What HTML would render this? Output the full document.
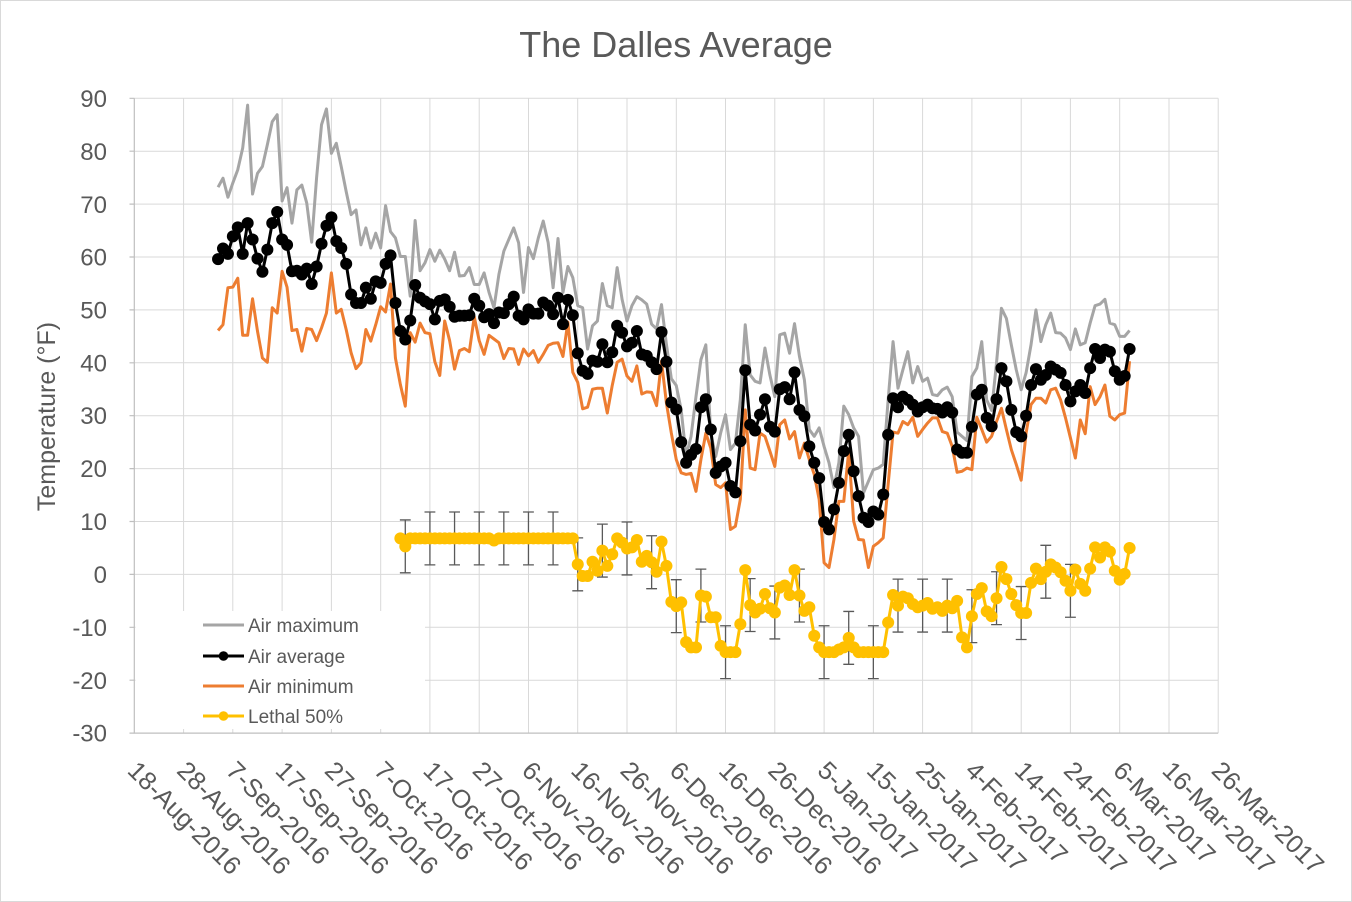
<!DOCTYPE html>
<html><head><meta charset="utf-8"><style>
html,body{margin:0;padding:0;background:#fff;}
svg{display:block;font-family:"Liberation Sans",Arial,sans-serif;}
</style></head><body>
<svg width="1352" height="902" viewBox="0 0 1352 902" xmlns="http://www.w3.org/2000/svg">
<rect x="0" y="0" width="1352" height="902" fill="#fff"/>
<rect x="0.5" y="0.5" width="1351" height="901" fill="none" stroke="#D9D9D9" stroke-width="1"/>
<text x="676" y="57" text-anchor="middle" font-size="36" fill="#595959">The Dalles Average</text>
<g stroke="#D9D9D9" stroke-width="1" fill="none">
<path d="M134.3,98.3H1218.2M134.3,151.2H1218.2M134.3,204.1H1218.2M134.3,257H1218.2M134.3,309.9H1218.2M134.3,362.8H1218.2M134.3,415.7H1218.2M134.3,468.6H1218.2M134.3,521.5H1218.2M134.3,574.4H1218.2M134.3,627.3H1218.2M134.3,680.2H1218.2"/>
<path d="M183.6,98.3V733M232.8,98.3V733M282.1,98.3V733M331.4,98.3V733M380.7,98.3V733M429.9,98.3V733M479.2,98.3V733M528.5,98.3V733M577.7,98.3V733M627,98.3V733M676.3,98.3V733M725.5,98.3V733M774.8,98.3V733M824.1,98.3V733M873.4,98.3V733M922.6,98.3V733M971.9,98.3V733M1021.2,98.3V733M1070.4,98.3V733M1119.7,98.3V733M1169,98.3V733M1218.2,98.3V733"/>
</g>
<g stroke="#BFBFBF" stroke-width="1.2" fill="none">
<path d="M134.3,98.3V733.1H1218.2"/>
<path d="M129.5,98.3H134.3M129.5,151.2H134.3M129.5,204.1H134.3M129.5,257H134.3M129.5,309.9H134.3M129.5,362.8H134.3M129.5,415.7H134.3M129.5,468.6H134.3M129.5,521.5H134.3M129.5,574.4H134.3M129.5,627.3H134.3M129.5,680.2H134.3M129.5,733.1H134.3"/>
</g>
<g font-size="24" fill="#595959" text-anchor="end">
<text x="107" y="107">90</text>
<text x="107" y="160">80</text>
<text x="107" y="213">70</text>
<text x="107" y="265.5">60</text>
<text x="107" y="318.5">50</text>
<text x="107" y="371.5">40</text>
<text x="107" y="424">30</text>
<text x="107" y="477">20</text>
<text x="107" y="530">10</text>
<text x="107" y="583">0</text>
<text x="107" y="636">-10</text>
<text x="107" y="689">-20</text>
<text x="107" y="741.5">-30</text>
</g>
<text transform="translate(55,416.5) rotate(-90)" text-anchor="middle" font-size="25" fill="#595959">Temperature (°F)</text>
<g font-size="25.5" fill="#595959">
<text transform="translate(126.3,772) rotate(45)">18-Aug-2016</text>
<text transform="translate(175.6,772) rotate(45)">28-Aug-2016</text>
<text transform="translate(224.8,772) rotate(45)">7-Sep-2016</text>
<text transform="translate(274.1,772) rotate(45)">17-Sep-2016</text>
<text transform="translate(323.4,772) rotate(45)">27-Sep-2016</text>
<text transform="translate(372.7,772) rotate(45)">7-Oct-2016</text>
<text transform="translate(421.9,772) rotate(45)">17-Oct-2016</text>
<text transform="translate(471.2,772) rotate(45)">27-Oct-2016</text>
<text transform="translate(520.5,772) rotate(45)">6-Nov-2016</text>
<text transform="translate(569.7,772) rotate(45)">16-Nov-2016</text>
<text transform="translate(619,772) rotate(45)">26-Nov-2016</text>
<text transform="translate(668.3,772) rotate(45)">6-Dec-2016</text>
<text transform="translate(717.5,772) rotate(45)">16-Dec-2016</text>
<text transform="translate(766.8,772) rotate(45)">26-Dec-2016</text>
<text transform="translate(816.1,772) rotate(45)">5-Jan-2017</text>
<text transform="translate(865.4,772) rotate(45)">15-Jan-2017</text>
<text transform="translate(914.6,772) rotate(45)">25-Jan-2017</text>
<text transform="translate(963.9,772) rotate(45)">4-Feb-2017</text>
<text transform="translate(1013.2,772) rotate(45)">14-Feb-2017</text>
<text transform="translate(1062.4,772) rotate(45)">24-Feb-2017</text>
<text transform="translate(1111.7,772) rotate(45)">6-Mar-2017</text>
<text transform="translate(1161,772) rotate(45)">16-Mar-2017</text>
<text transform="translate(1210.2,772) rotate(45)">26-Mar-2017</text>
</g>
<!-- legend -->
<rect x="135.5" y="611" width="289.5" height="118" fill="#fff"/>
<g stroke-width="3" fill="none">
<path d="M203,625H244" stroke="#A5A5A5"/>
<path d="M203,656H244" stroke="#000"/>
<path d="M203,686H244" stroke="#ED7D31"/>
<path d="M203,716H244" stroke="#FFC000"/>
</g>
<circle cx="223.5" cy="656" r="4.8" fill="#000"/>
<circle cx="223.5" cy="716" r="4.8" fill="#FFC000"/>
<g font-size="19" fill="#595959">
<text x="248" y="632">Air maximum</text>
<text x="248" y="663">Air average</text>
<text x="248" y="693">Air minimum</text>
<text x="248" y="723">Lethal 50%</text>
</g>
<!-- data: x = 134.3 + day*4.927, y = 574.4 - 5.29*v -->
<g transform="translate(134.3,574.4) scale(4.927,-5.29)" fill="none">
<polyline vector-effect="non-scaling-stroke" stroke="#A5A5A5" stroke-width="3" stroke-linejoin="round" points="17,73.2 18,74.9 19,71.3 20,74 21,76.5 22,80.6 23,88.7 24,71.9 25,75.8 26,77.1 27,81.2 28,85.6 29,86.9 30,70.6 31,73.1 32,66.4 33,72.7 34,73.6 35,70.2 36,62.8 37,75 38,85 39,88 40,79.6 41,81.5 42,77.1 43,72.4 44,68 45,68.9 46,62.3 47,65.5 48,61.7 49,64.5 50,61.7 51,69.7 52,64.8 53,63.6 54,60.1 55,60.1 56,52.6 57,66.9 58,57.4 59,58.9 60,61.4 61,59.2 62,61.3 63,59.6 64,57.4 65,60.9 66,56.4 67,56.5 68,58 69,54.8 70,54.8 71,57 72,53.3 73,50.4 74,56.7 75,61.1 76,63.3 77,65.5 78,62.7 79,53.3 80,61.8 81,59.7 82,63.6 83,66.8 84,62.7 85,54.2 86,63.5 87,53.3 88,58.2 89,56.1 90,50.8 91,50.4 92,42.6 93,47 94,47.9 95,55 96,50.8 97,50.4 98,58 99,52 100,47.9 101,50.8 102,52.5 103,51.9 104,51.1 105,47.3 106,46.4 107,51 108,43.5 109,37 110,35.7 111,31.1 112,22.3 113,26.1 114,33.6 115,40.6 116,43.4 117,26.7 118,22.3 119,26.7 120,30.2 121,23.6 122,24.8 123,33 124,47.2 125,37.7 126,36.5 127,36.2 128,42.8 129,37.7 130,33.6 131,45.3 132,45.6 133,41.8 134,47.4 135,41.2 136,36.8 137,27.4 138,26.1 139,27.7 140,24.2 141,21.1 142,16.4 143,21.1 144,31.8 145,30.2 146,27.7 147,26.1 148,15.4 149,17.6 150,19.8 151,20.1 152,20.8 153,33 154,44 155,35.2 156,38.7 157,42.1 158,36.2 159,39.3 160,36.5 161,37.1 162,34 163,33.8 164,34.9 165,35.4 166,33.6 167,26.9 168,26.1 169,25.3 170,37.4 171,39 172,44 173,33 174,31 175,40 176,50.3 177,48.4 178,43.4 179,38.7 180,34.9 181,38.1 182,43.4 183,50 184,44 185,47.2 186,49.4 187,45.7 188,45.6 189,44.7 190,42.5 191,46.4 192,43.4 193,43.8 194,47.5 195,50.8 196,51.1 197,52 198,47.5 199,47.2 200,45 201,45 202,46.1"/>
<polyline vector-effect="non-scaling-stroke" stroke="#ED7D31" stroke-width="3" stroke-linejoin="round" points="17,46.1 18,47.2 19,54.2 20,54.3 21,56 22,45.2 23,45.2 24,52.1 25,46 26,40.9 27,40.1 28,50.4 29,49.4 30,57.3 31,54.3 32,46.1 33,46.3 34,42.2 35,46.5 36,46.3 37,44.2 38,46.6 39,49.4 40,57 41,49.4 42,50.1 43,46.3 44,41.9 45,38.9 46,40 47,46.3 48,44.1 49,47.2 50,50.6 51,49.6 52,54.9 53,40.9 54,35.9 55,31.8 56,45.7 57,43.9 58,47.5 59,45.7 60,45.5 61,40.2 62,37.6 63,47.9 64,44.2 65,38.8 66,42.3 67,42.7 68,42.1 69,48.7 70,44.2 71,41.6 72,45.2 73,44.5 74,43.8 75,40.8 76,42.7 77,42.6 78,39.7 79,42.6 80,41.3 81,42.3 82,40.1 83,41.6 84,43.3 85,43.7 86,43.8 87,41.2 88,47.7 89,38.2 90,36.3 91,31.3 92,31.6 93,35 94,35.2 95,35.2 96,30.5 97,35.7 98,40.1 99,40.7 100,37.5 101,36.5 102,39.4 103,34.1 104,34.5 105,34.4 106,31.9 107,40.3 108,32.4 109,26.7 110,21.7 111,19.2 112,18.9 113,19.1 114,15.7 115,21.7 116,26.7 117,23.9 118,17 119,16.4 120,17.3 121,8.5 122,9.1 123,14.2 124,31.1 125,20.1 126,19.8 127,26.7 128,26.1 129,23.3 130,20.4 131,28.3 132,29.2 133,25.6 134,27 135,22 136,24.8 137,21.7 138,18.9 139,14.2 140,2.2 141,1.3 142,6.6 143,13.8 144,13.8 145,23.3 146,10.1 147,6.6 148,6.5 149,1.3 150,5.3 151,6 152,6.9 153,17 154,26.9 155,26.7 156,28.9 157,28.3 158,29.7 159,26.1 160,27.4 161,28.6 162,29.6 163,29.6 164,27 165,26.7 166,24.2 167,19.3 168,19.5 169,20.1 170,19.8 171,29.7 172,27.4 173,25 174,26.1 175,28.9 176,31.4 177,27.4 178,23.6 179,20.8 180,17.8 181,26.7 182,32.1 183,33.3 184,33.3 185,32.4 186,34.9 187,35.2 188,33 189,29.6 190,25.8 191,22 192,29.2 193,26.6 194,35.5 195,32.1 196,33.6 197,35.8 198,29.9 199,29.2 200,30.2 201,30.5 202,40.3"/>
<polyline vector-effect="non-scaling-stroke" stroke="#000" stroke-width="3" stroke-linejoin="round" points="17,59.6 18,61.6 19,60.6 20,63.9 21,65.6 22,60.6 23,66.4 24,63.3 25,59.7 26,57.2 27,61.4 28,66.4 29,68.5 30,63.3 31,62.3 32,57.3 33,57.4 34,56.7 35,57.8 36,54.9 37,58.2 38,62.5 39,65.9 40,67.5 41,63 42,61.7 43,58.7 44,52.9 45,51.3 46,51.3 47,54.2 48,52.1 49,55.4 50,55.1 51,58.7 52,60.3 53,51.3 54,46 55,44.4 56,48 57,54.7 58,52.3 59,51.6 60,51.1 61,48.2 62,51.7 63,52 64,50.6 65,48.7 66,48.9 67,48.9 68,49 69,52.1 70,50.8 71,48.6 72,49.2 73,47.5 74,49.5 75,49.4 76,51.1 77,52.5 78,48.9 79,48.2 80,50.1 81,49.3 82,49.3 83,51.4 84,50.8 85,49.2 86,52.3 87,47.3 88,51.9 89,49 90,41.8 91,38.5 92,37.9 93,40.4 94,40.2 95,43.5 96,40.1 97,42 98,47 99,45.7 100,43.1 101,43.8 102,46 103,41.6 104,41.3 105,40.1 106,38.8 107,45.8 108,40.2 109,32.5 110,31.2 111,25 112,21.1 113,22.6 114,23.7 115,31.6 116,33.1 117,27.4 118,19.2 119,20.4 120,21.1 121,16.7 122,15.5 123,25.2 124,38.6 125,28.3 126,27.2 127,30.2 128,33.1 129,27.9 130,27 131,35 132,35.4 133,33.1 134,38.2 135,31.1 136,29.9 137,24.2 138,21.1 139,18.2 140,9.9 141,8.5 142,12.3 143,17.3 144,23.3 145,26.4 146,19.5 147,14.8 148,10.7 149,9.9 150,11.9 151,11.3 152,15.1 153,26.4 154,33.3 155,31.6 156,33.6 157,33 158,32.1 159,30.8 160,31.6 161,32.1 162,31.4 163,31.3 164,30.6 165,31.6 166,30.6 167,23.6 168,23 169,23 170,27.9 171,34 172,34.9 173,29.6 174,28 175,33.1 176,39 177,36.5 178,31.1 179,26.9 180,26.1 181,30 182,35.8 183,38.8 184,36.8 185,37.7 186,39.3 187,38.7 188,38.1 189,35.8 190,32.7 191,34.6 192,35.8 193,34.3 194,39 195,42.6 196,40.9 197,42.5 198,42.1 199,38.4 200,36.8 201,37.5 202,42.6"/>
<path vector-effect="non-scaling-stroke" stroke="#000" stroke-width="12" stroke-linecap="round" d="M17,59.6h.01M18,61.6h.01M19,60.6h.01M20,63.9h.01M21,65.6h.01M22,60.6h.01M23,66.4h.01M24,63.3h.01M25,59.7h.01M26,57.2h.01M27,61.4h.01M28,66.4h.01M29,68.5h.01M30,63.3h.01M31,62.3h.01M32,57.3h.01M33,57.4h.01M34,56.7h.01M35,57.8h.01M36,54.9h.01M37,58.2h.01M38,62.5h.01M39,65.9h.01M40,67.5h.01M41,63h.01M42,61.7h.01M43,58.7h.01M44,52.9h.01M45,51.3h.01M46,51.3h.01M47,54.2h.01M48,52.1h.01M49,55.4h.01M50,55.1h.01M51,58.7h.01M52,60.3h.01M53,51.3h.01M54,46h.01M55,44.4h.01M56,48h.01M57,54.7h.01M58,52.3h.01M59,51.6h.01M60,51.1h.01M61,48.2h.01M62,51.7h.01M63,52h.01M64,50.6h.01M65,48.7h.01M66,48.9h.01M67,48.9h.01M68,49h.01M69,52.1h.01M70,50.8h.01M71,48.6h.01M72,49.2h.01M73,47.5h.01M74,49.5h.01M75,49.4h.01M76,51.1h.01M77,52.5h.01M78,48.9h.01M79,48.2h.01M80,50.1h.01M81,49.3h.01M82,49.3h.01M83,51.4h.01M84,50.8h.01M85,49.2h.01M86,52.3h.01M87,47.3h.01M88,51.9h.01M89,49h.01M90,41.8h.01M91,38.5h.01M92,37.9h.01M93,40.4h.01M94,40.2h.01M95,43.5h.01M96,40.1h.01M97,42h.01M98,47h.01M99,45.7h.01M100,43.1h.01M101,43.8h.01M102,46h.01M103,41.6h.01M104,41.3h.01M105,40.1h.01M106,38.8h.01M107,45.8h.01M108,40.2h.01M109,32.5h.01M110,31.2h.01M111,25h.01M112,21.1h.01M113,22.6h.01M114,23.7h.01M115,31.6h.01M116,33.1h.01M117,27.4h.01M118,19.2h.01M119,20.4h.01M120,21.1h.01M121,16.7h.01M122,15.5h.01M123,25.2h.01M124,38.6h.01M125,28.3h.01M126,27.2h.01M127,30.2h.01M128,33.1h.01M129,27.9h.01M130,27h.01M131,35h.01M132,35.4h.01M133,33.1h.01M134,38.2h.01M135,31.1h.01M136,29.9h.01M137,24.2h.01M138,21.1h.01M139,18.2h.01M140,9.9h.01M141,8.5h.01M142,12.3h.01M143,17.3h.01M144,23.3h.01M145,26.4h.01M146,19.5h.01M147,14.8h.01M148,10.7h.01M149,9.9h.01M150,11.9h.01M151,11.3h.01M152,15.1h.01M153,26.4h.01M154,33.3h.01M155,31.6h.01M156,33.6h.01M157,33h.01M158,32.1h.01M159,30.8h.01M160,31.6h.01M161,32.1h.01M162,31.4h.01M163,31.3h.01M164,30.6h.01M165,31.6h.01M166,30.6h.01M167,23.6h.01M168,23h.01M169,23h.01M170,27.9h.01M171,34h.01M172,34.9h.01M173,29.6h.01M174,28h.01M175,33.1h.01M176,39h.01M177,36.5h.01M178,31.1h.01M179,26.9h.01M180,26.1h.01M181,30h.01M182,35.8h.01M183,38.8h.01M184,36.8h.01M185,37.7h.01M186,39.3h.01M187,38.7h.01M188,38.1h.01M189,35.8h.01M190,32.7h.01M191,34.6h.01M192,35.8h.01M193,34.3h.01M194,39h.01M195,42.6h.01M196,40.9h.01M197,42.5h.01M198,42.1h.01M199,38.4h.01M200,36.8h.01M201,37.5h.01M202,42.6h.01"/>
<!-- error bars -->
<path vector-effect="non-scaling-stroke" stroke="#595959" stroke-width="1.3" d="M55,0.3V10.3M53.9,10.3H56.1M53.9,0.3H56.1M60,1.8V11.8M58.9,11.8H61.1M58.9,1.8H61.1M65,1.8V11.8M63.9,11.8H66.1M63.9,1.8H66.1M70,1.8V11.8M68.9,11.8H71.1M68.9,1.8H71.1M75,1.8V11.8M73.9,11.8H76.1M73.9,1.8H76.1M80,1.8V11.8M78.9,11.8H81.1M78.9,1.8H81.1M85,1.8V11.8M83.9,11.8H86.1M83.9,1.8H86.1M90,-3.1V6.9M88.9,6.9H91.1M88.9,-3.1H91.1M95,-0.5V9.5M93.9,9.5H96.1M93.9,-0.5H96.1M100,-0.1V9.9M98.9,9.9H101.1M98.9,-0.1H101.1M105,-2.7V7.3M103.9,7.3H106.1M103.9,-2.7H106.1M110,-11V-1M108.9,-1H111.1M108.9,-11H111.1M115,-9V1M113.9,1H116.1M113.9,-9H116.1M120,-19.7V-9.7M118.9,-9.7H121.1M118.9,-19.7H121.1M125,-10.8V-0.8M123.9,-0.8H126.1M123.9,-10.8H126.1M130,-12.2V-2.2M128.9,-2.2H131.1M128.9,-12.2H131.1M135,-9V1M133.9,1H136.1M133.9,-9H136.1M140,-19.7V-9.7M138.9,-9.7H141.1M138.9,-19.7H141.1M145,-17V-7M143.9,-7H146.1M143.9,-17H146.1M150,-19.7V-9.7M148.9,-9.7H151.1M148.9,-19.7H151.1M155,-10.9V-0.9M153.9,-0.9H156.1M153.9,-10.9H156.1M160,-10.9V-0.9M158.9,-0.9H161.1M158.9,-10.9H161.1M165,-10.9V-0.9M163.9,-0.9H166.1M163.9,-10.9H166.1M170,-12.9V-2.9M168.9,-2.9H171.1M168.9,-12.9H171.1M175,-9.5V0.5M173.9,0.5H176.1M173.9,-9.5H176.1M180,-12.3V-2.3M178.9,-2.3H181.1M178.9,-12.3H181.1M185,-4.5V5.5M183.9,5.5H186.1M183.9,-4.5H186.1M190,-8.1V1.9M188.9,1.9H191.1M188.9,-8.1H191.1"/>
<polyline vector-effect="non-scaling-stroke" stroke="#FFC000" stroke-width="3" stroke-linejoin="round" points="54,6.8 55,5.3 56,6.8 72,6.8 73,6.4 74,6.8 89,6.8 90,1.9 91,-0.3 92,-0.3 93,2.4 94,0.7 95,4.5 96,1.6 97,3.8 98,6.8 99,6 100,4.9 101,5.1 102,6.5 103,2.4 104,3.5 105,2.3 106,0.5 107,6.2 108,1.6 109,-5.2 110,-6 111,-5.3 112,-12.8 113,-13.8 114,-13.8 115,-4 116,-4.2 117,-8.1 118,-8.1 119,-13.5 120,-14.7 121,-14.7 122,-14.7 123,-9.4 124,0.8 125,-5.8 126,-7.2 127,-6.5 128,-3.7 129,-6.4 130,-7.2 131,-2.5 132,-2.1 133,-3.9 134,0.8 135,-4 136,-6.9 137,-6.2 138,-11.6 139,-13.8 140,-14.7 141,-14.7 142,-14.7 143,-14.2 144,-13.8 145,-12 146,-13.8 147,-14.7 148,-14.7 149,-14.7 150,-14.7 151,-14.7 152,-14.7 153,-9.1 154,-3.9 155,-5.9 156,-4.2 157,-4.5 158,-5.6 159,-6.2 160,-5.9 161,-5.4 162,-6.5 163,-6.2 164,-6.9 165,-5.9 166,-6.4 167,-5 168,-11.9 169,-13.8 170,-7.9 171,-3.7 172,-2.6 173,-7 174,-7.9 175,-4.5 176,1.4 177,-0.9 178,-3.7 179,-5.8 180,-7.3 181,-7.3 182,-1.6 183,1.1 184,-0.9 185,0.5 186,1.9 187,1.3 188,0.4 189,-1.2 190,-3.1 191,0.9 192,-1.8 193,-3.1 194,1.1 195,5.1 196,3.2 197,5.1 198,4.3 199,0.7 200,-1 201,0.1 202,5"/>
<path vector-effect="non-scaling-stroke" stroke="#FFC000" stroke-width="12" stroke-linecap="round" d="M54,6.8h.01M55,5.3h.01M56,6.8h.01M57,6.8h.01M58,6.8h.01M59,6.8h.01M60,6.8h.01M61,6.8h.01M62,6.8h.01M63,6.8h.01M64,6.8h.01M65,6.8h.01M66,6.8h.01M67,6.8h.01M68,6.8h.01M69,6.8h.01M70,6.8h.01M71,6.8h.01M72,6.8h.01M73,6.4h.01M74,6.8h.01M75,6.8h.01M76,6.8h.01M77,6.8h.01M78,6.8h.01M79,6.8h.01M80,6.8h.01M81,6.8h.01M82,6.8h.01M83,6.8h.01M84,6.8h.01M85,6.8h.01M86,6.8h.01M87,6.8h.01M88,6.8h.01M89,6.8h.01M90,1.9h.01M91,-0.3h.01M92,-0.3h.01M93,2.4h.01M94,0.7h.01M95,4.5h.01M96,1.6h.01M97,3.8h.01M98,6.8h.01M99,6h.01M100,4.9h.01M101,5.1h.01M102,6.5h.01M103,2.4h.01M104,3.5h.01M105,2.3h.01M106,0.5h.01M107,6.2h.01M108,1.6h.01M109,-5.2h.01M110,-6h.01M111,-5.3h.01M112,-12.8h.01M113,-13.8h.01M114,-13.8h.01M115,-4h.01M116,-4.2h.01M117,-8.1h.01M118,-8.1h.01M119,-13.5h.01M120,-14.7h.01M121,-14.7h.01M122,-14.7h.01M123,-9.4h.01M124,0.8h.01M125,-5.8h.01M126,-7.2h.01M127,-6.5h.01M128,-3.7h.01M129,-6.4h.01M130,-7.2h.01M131,-2.5h.01M132,-2.1h.01M133,-3.9h.01M134,0.8h.01M135,-4h.01M136,-6.9h.01M137,-6.2h.01M138,-11.6h.01M139,-13.8h.01M140,-14.7h.01M141,-14.7h.01M142,-14.7h.01M143,-14.2h.01M144,-13.8h.01M145,-12h.01M146,-13.8h.01M147,-14.7h.01M148,-14.7h.01M149,-14.7h.01M150,-14.7h.01M151,-14.7h.01M152,-14.7h.01M153,-9.1h.01M154,-3.9h.01M155,-5.9h.01M156,-4.2h.01M157,-4.5h.01M158,-5.6h.01M159,-6.2h.01M160,-5.9h.01M161,-5.4h.01M162,-6.5h.01M163,-6.2h.01M164,-6.9h.01M165,-5.9h.01M166,-6.4h.01M167,-5h.01M168,-11.9h.01M169,-13.8h.01M170,-7.9h.01M171,-3.7h.01M172,-2.6h.01M173,-7h.01M174,-7.9h.01M175,-4.5h.01M176,1.4h.01M177,-0.9h.01M178,-3.7h.01M179,-5.8h.01M180,-7.3h.01M181,-7.3h.01M182,-1.6h.01M183,1.1h.01M184,-0.9h.01M185,0.5h.01M186,1.9h.01M187,1.3h.01M188,0.4h.01M189,-1.2h.01M190,-3.1h.01M191,0.9h.01M192,-1.8h.01M193,-3.1h.01M194,1.1h.01M195,5.1h.01M196,3.2h.01M197,5.1h.01M198,4.3h.01M199,0.7h.01M200,-1h.01M201,0.1h.01M202,5h.01"/>
</g>
</svg>
</body></html>
